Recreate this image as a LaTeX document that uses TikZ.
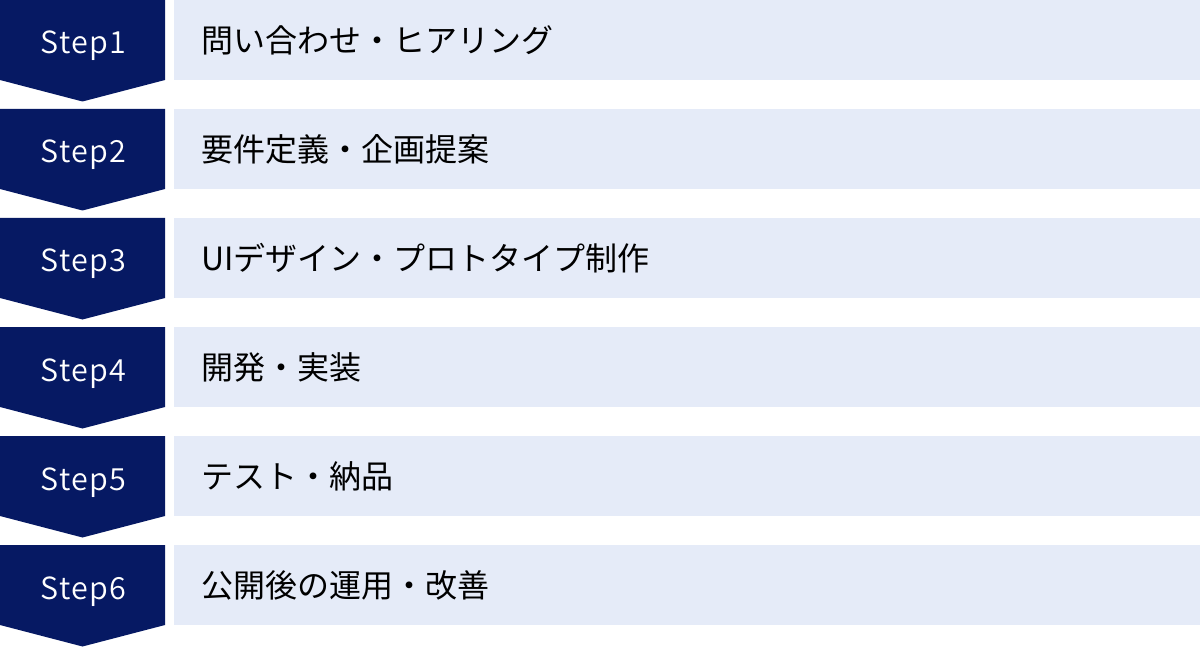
\documentclass[tikz,border=0pt]{standalone}
\usepackage{fontspec}
\setmainfont{Noto Sans CJK JP}
\newfontfamily\stepfont{Noto Sans CJK JP DemiLight}[LetterSpace=4]
\definecolor{navy}{HTML}{061963}
\definecolor{pale}{HTML}{E5EBF8}
\begin{document}
\begin{tikzpicture}[x=1pt,y=-1pt,
  stepshape/.style={fill=navy,draw=none},
  bar/.style={fill=pale,draw=none},
  steplabel/.style={text=white,font=\stepfont\fontsize{30.5}{34}\selectfont,anchor=base,inner sep=0pt},
  barlabel/.style={text=black,font=\fontsize{32}{36}\selectfont,anchor=west,inner sep=0pt}]
\useasboundingbox (0,0) rectangle (1200,647);
\foreach \i/\t in {1/問い合わせ・ヒアリング,2/要件定義・企画提案,3/UIデザイン・プロトタイプ制作,4/開発・実装,5/テスト・納品,6/公開後の運用・改善}{
  \pgfmathsetmacro{\yy}{(\i-1)*109}
  \fill[stepshape] (0,\yy) -- (165,\yy) -- (165,\yy+80) -- (82.5,\yy+101.5) -- (0,\yy+80) -- cycle;
  \fill[bar] (174,\yy) rectangle (1200,\yy+80);
  \node[steplabel] (s\i) at (83.5,\yy+54) {Step\i};
  \node[barlabel] (t\i) at (201,\yy+40) {\t};
}
\end{tikzpicture}
\end{document}
